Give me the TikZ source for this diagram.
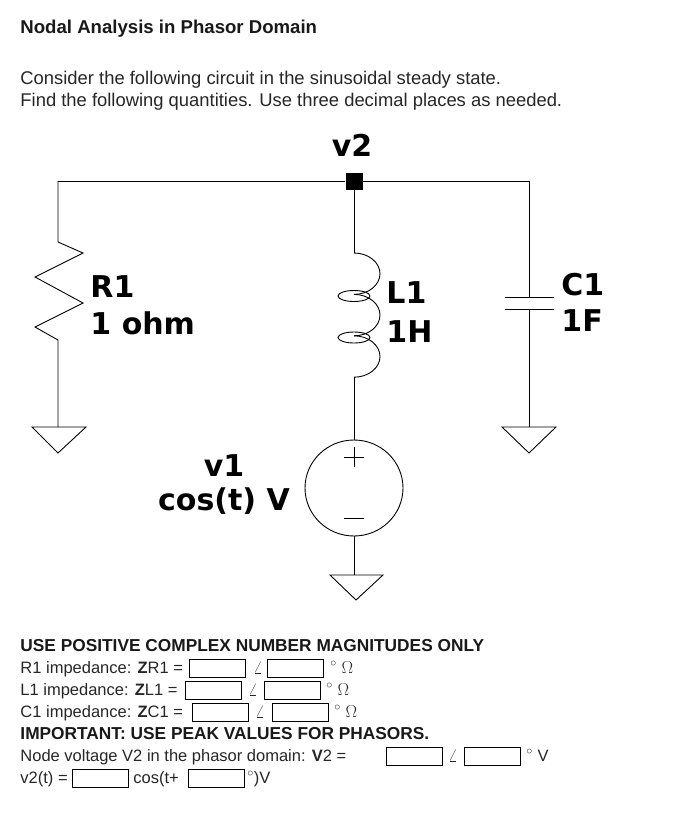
\documentclass[tikz,border=0pt]{standalone}
\usepackage{fontspec}
\usetikzlibrary{shapes.geometric}
\setmainfont{Liberation Sans}
\newfontfamily\cfont{DejaVu Sans}
\begin{document}
\begin{tikzpicture}[x=1pt,y=-1pt,line width=0.9pt,
  txt/.style={anchor=base west,inner sep=0pt,font=\fontsize{16.5}{19}\selectfont,text=black!85},
  ltxt/.style={anchor=base west,inner sep=0pt,font=\fontsize{18.4}{20}\selectfont,text=black!85},
  btxt/.style={anchor=base west,inner sep=0pt,font=\bfseries\fontsize{17.3}{19}\selectfont,text=black!90},
  lbl/.style={inner sep=0pt,font=\cfont\bfseries\fontsize{30}{32}\selectfont},
  box/.style={draw,line width=0.7pt,minimum width=56pt,minimum height=18pt,inner sep=0pt}]
\useasboundingbox (0,0) rectangle (674,815);
\node[btxt,font=\bfseries\fontsize{18.6}{20}\selectfont] (title) at (20,33) {Nodal Analysis in Phasor Domain};
\node[ltxt] (l1) at (20,84) {Consider the following circuit in the sinusoidal steady state.};
\node[ltxt] (l2) at (20,106) {Find the following quantities. Use three decimal places as needed.};
\node[lbl] (v2) at (352,145) {v2};
% wires
\node[fill,minimum size=17pt,inner sep=0pt] (n2) at (354,181) {};
\coordinate (tl) at (58,181); \coordinate (tr) at (529,181);
\draw (tl) -- (n2) -- (tr);
% resistor
\draw (tl) -- (58,242) -- (83,253) -- (35,277) -- (83,303) -- (35,327) -- (58,340) -- (58,427);
\draw (32,427) -- (86,427) -- (58,453) -- cycle;
\node[lbl,anchor=west] (r1) at (90,287) {R1};
\node[lbl,anchor=west] (r1v) at (90,323) {1 ohm};
% inductor
\draw (n2) -- (354,253);
\draw (354,253) arc[start angle=-90,end angle=90,x radius=26,y radius=20.7];
\draw (354,294.4) arc[start angle=-90,end angle=90,x radius=26,y radius=20.7];
\draw (354,335.8) arc[start angle=-90,end angle=90,x radius=26,y radius=20.7];
\draw (370,296) arc[start angle=0,end angle=360,x radius=16,y radius=5.5];
\draw (370,337.5) arc[start angle=0,end angle=360,x radius=16,y radius=5.5];
\draw (354,377.2) -- (354,440);
\node[lbl,anchor=west] (l1l) at (386,293) {L1};
\node[lbl,anchor=west] (l1v) at (386,332) {1H};
% source
\node[draw,ellipse,minimum width=98pt,minimum height=96pt,inner sep=0pt] (src) at (354,488) {};
\draw (344,457) -- (364,457) (354,447) -- (354,467);
\draw (344,518) -- (364,518);
\draw (src.south) -- (354,575);
\draw (330,575) -- (383,575) -- (356,600) -- cycle;
\node[lbl] (v1) at (224,466) {v1};
\node[lbl] (v1v) at (224,501) {cos(t) V};
% capacitor
\draw (tr) -- (529,297);
\draw (505,297) -- (554,297) (505,309) -- (554,309);
\draw (529,309) -- (529,427);
\draw (502,427) -- (556,427) -- (529,453) -- cycle;
\node[lbl,anchor=west] (c1) at (561,285) {C1};
\node[lbl,anchor=west] (c1v) at (561,321) {1F};
% bottom text
\node[btxt] (b0) at (20,651) {USE POSITIVE COMPLEX NUMBER MAGNITUDES ONLY};
\node[txt] (b1) at (20,673) {R1 impedance: \textbf{Z}R1 =};
\node[box] (b1a) at (217,668) {}; \node[txt] (b1g) at (253,673) {$\angle$};
\node[box] (b1b) at (295,668) {}; \node[txt] (b1u) at (330,673) {$^\circ$ $\Omega$};
\node[txt] (b2) at (20,695) {L1 impedance: \textbf{Z}L1 =};
\node[box] (b2a) at (213,690) {}; \node[txt] (b2g) at (248,695) {$\angle$};
\node[box] (b2b) at (292,690) {}; \node[txt] (b2u) at (326,695) {$^\circ$ $\Omega$};
\node[txt] (b3) at (20,717) {C1 impedance: \textbf{Z}C1 =};
\node[box] (b3a) at (220,712) {}; \node[txt] (b3g) at (255,717) {$\angle$};
\node[box] (b3b) at (300,712) {}; \node[txt] (b3u) at (334,717) {$^\circ$ $\Omega$};
\node[btxt] (b4) at (20,739) {IMPORTANT: USE PEAK VALUES FOR PHASORS.};
\node[txt] (b5) at (20,761) {Node voltage V2 in the phasor domain: \textbf{V}2 =};
\node[box] (b5a) at (414,756) {}; \node[txt] (b5g) at (448,761) {$\angle$};
\node[box] (b5b) at (492,756) {}; \node[txt] (b5u) at (526,761) {$^\circ$ V};
\node[txt] (b6) at (20,783) {v2(t) =};
\node[box] (b6a) at (100,778) {}; \node[txt] (b6c) at (133,783) {cos(t+};
\node[box] (b6b) at (216,778) {}; \node[txt] (b6u) at (247,783) {$^\circ$)V};
\end{tikzpicture}
\end{document}
